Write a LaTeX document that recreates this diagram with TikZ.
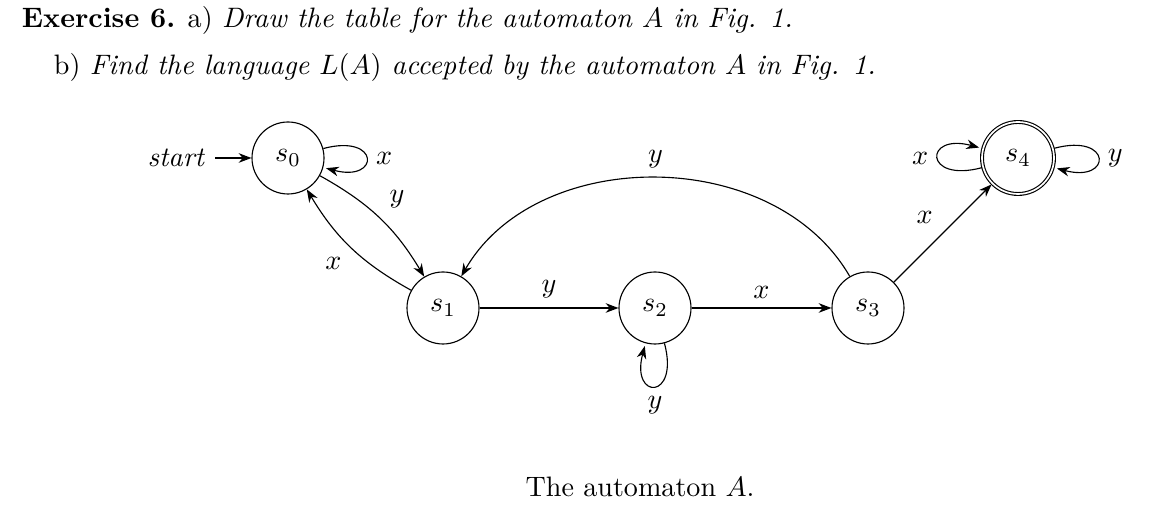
\documentclass[tikz,border=0pt]{standalone}
\usetikzlibrary{automata,positioning,arrows.meta}
\tikzset{state/.append style={minimum size=0.9cm,inner sep=0pt},
  every edge/.append style={-{Stealth[length=1.6mm]}},
  lab/.style={font=\normalsize}}
\begin{document}
\begin{tikzpicture}[>={Stealth[length=1.6mm]}]
    \useasboundingbox (0,0) rectangle (14.425,6.5);
    \node[anchor=west] at (0.15,6.25) (q1){\textbf{Exercise 6.} a) \textit{Draw the table for the automaton $A$ in Fig. 1.}};
    \node[anchor=west] at (0.55,5.66) (q2){b) \textit{Find the language $L(A)$ accepted by the automaton $A$ in Fig. 1.}};

    \node[state,initial,initial text={\textit{start}}] at (3.6,4.525) (s0){$s_0$};
    \node[state] at (5.5375,2.65) (s1){$s_1$};
    \node[state] at (8.1875,2.65) (s2){$s_2$};
    \node[state] at (10.85,2.65) (s3){$s_3$};
    \node[state,accepting] at (12.725,4.525) (s4){$s_4$};

    \draw (s0) edge[loop right] node[right]{$x$} (s0)
          (s0) edge[bend left=15] node[above right]{$y$} (s1)
          (s1) edge[bend left=15] node[below left]{$x$} (s0)
          (s1) edge node[above]{$y$} (s2)
          (s2) edge[loop below] node[below]{$y$} (s2)
          (s2) edge node[above]{$x$} (s3)
          (s3) edge[bend right=60] node[above]{$y$} (s1)
          (s3) edge node[above left]{$x$} (s4)
          (s4) edge[loop left] node[left]{$x$} (s4)
          (s4) edge[loop right] node[right]{$y$} (s4);

    \node at (8.0,0.41) (cap){The automaton $A$.};
\end{tikzpicture}
\end{document}
